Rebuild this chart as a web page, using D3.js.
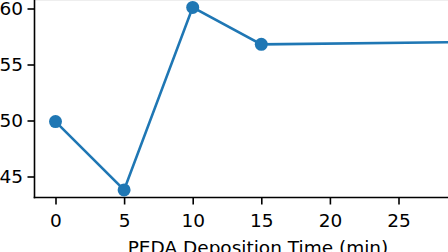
<!DOCTYPE html>
<html><head><meta charset="utf-8">
<script src="https://cdn.jsdelivr.net/npm/d3@7"></script>
<style>html,body{margin:0;padding:0;background:#fff;overflow:hidden}</style>
</head><body>
<svg id="c" width="448" height="252"></svg>
<script>
const times = [0, 5, 10, 15, 30];
const values = [49.9, 43.8, 60.1, 56.8, 57.0];
const xTicks = [0, 5, 10, 15, 20, 25];
const yTicks = [45, 50, 55, 60];
const xLabel = "PEDA Deposition Time (min)";

const svg = d3.select("#c");
const left = 34.5, bottom = 197.5;
const x = d3.scaleLinear().domain([0, 25]).range([55.5, 398.5]);
const y = d3.scaleLinear().domain([45, 60]).range([176.5, 8.5]);

svg.append("line").attr("x1", left).attr("x2", 448).attr("y1", 0).attr("y2", 0)
  .attr("stroke", "#ddd").attr("stroke-width", 1);

const font = "DejaVu Sans, sans-serif";
const fs = 18.5;

const xAxis = svg.append("g").attr("transform", `translate(0,${bottom})`)
  .call(d3.axisBottom(x).tickValues(xTicks).tickSize(7).tickPadding(9).tickFormat(d3.format("d")));
xAxis.select(".domain").remove();
xAxis.selectAll("line").attr("stroke", "#000").attr("stroke-width", 1.6);
xAxis.selectAll("text").attr("font-family", font).attr("font-size", fs).attr("fill", "#000");

const yAxis = svg.append("g").attr("transform", `translate(${left},0)`)
  .call(d3.axisLeft(y).tickValues(yTicks).tickSize(7).tickPadding(4.5).tickFormat(d3.format("d")));
yAxis.select(".domain").remove();
yAxis.selectAll("line").attr("stroke", "#000").attr("stroke-width", 1.6);
yAxis.selectAll("text").attr("font-family", font).attr("font-size", fs).attr("fill", "#000");

svg.append("line").attr("x1", left).attr("x2", left).attr("y1", 0).attr("y2", bottom + 0.8)
  .attr("stroke", "#000").attr("stroke-width", 1.6);
svg.append("line").attr("x1", left - 0.8).attr("x2", 448).attr("y1", bottom).attr("y2", bottom)
  .attr("stroke", "#000").attr("stroke-width", 1.6);

const data = times.map((t, i) => ({t, v: values[i]}));
svg.append("path").datum(data)
  .attr("fill", "none").attr("stroke", "#1f77b4").attr("stroke-width", 2.6)
  .attr("d", d3.line().x(d => x(d.t)).y(d => y(d.v)));
svg.selectAll("circle.pt").data(data).join("circle").attr("class", "pt")
  .attr("cx", d => x(d.t)).attr("cy", d => y(d.v)).attr("r", 6.5).attr("fill", "#1f77b4");

svg.append("text").attr("x", 258).attr("y", 253.5).attr("text-anchor", "middle")
  .attr("font-family", font).attr("font-size", fs).attr("fill", "#000").text(xLabel);
</script>
</body></html>
